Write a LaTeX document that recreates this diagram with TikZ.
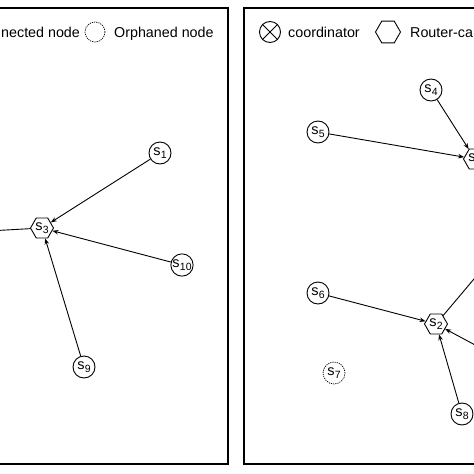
\documentclass[tikz,border=0pt]{standalone}
\usepackage{fontspec}
\setmainfont{Liberation Sans}
\usetikzlibrary{arrows.meta,shapes.geometric}
\newcommand{\slab}[1]{s\kern0.3pt\raisebox{-3.5pt}{\fontsize{10.5}{11}\selectfont #1}}
\begin{document}
\begin{tikzpicture}[x=1pt,y=-1pt,
  snode/.style={circle,draw,line width=0.9pt,minimum size=22pt,inner sep=0pt,font=\fontsize{14.5}{14}\selectfont},
  orph/.style={snode,line width=0.7pt,dash pattern=on 1.2pt off 1pt},
  hexnode/.style={regular polygon,regular polygon sides=6,draw,minimum size=23pt,inner sep=0pt,line width=0.9pt,font=\fontsize{14.5}{14}\selectfont},
  conn/.style={line width=0.9pt,-{Stealth[length=6pt,width=4.5pt]}},
  plain/.style={line width=0.9pt},
  frame/.style={line width=1.4pt},
  legtext/.style={anchor=base west,inner sep=0pt,font=\fontsize{14.3}{16}\selectfont}]
\useasboundingbox (0,0) rectangle (474,474);
\clip (0,0) rectangle (474,474);
% frames
\draw[frame] (-5,8) -- (228,8) -- (228,464) -- (-5,464);
\draw[frame] (480,8) -- (244,8) -- (244,464) -- (480,464);
% left legend
\node[legtext] (tdis) at (1,37) {nected node};
\node[circle,draw,line width=0.7pt,dash pattern=on 1.2pt off 1pt,minimum size=20pt,inner sep=0pt] (lorph) at (95,32) {};
\node[legtext] (torph) at (114,37) {Orphaned node};
% right legend
\node[circle,draw,line width=0.9pt,minimum size=21pt,inner sep=0pt] (lcoord) at (270,32) {};
\draw[line width=0.9pt] (lcoord.north west) -- (lcoord.south east) (lcoord.north east) -- (lcoord.south west);
\node[legtext] (tcoord) at (288,37) {coordinator};
\node[regular polygon,regular polygon sides=6,draw,line width=0.9pt,minimum size=25pt,inner sep=0pt] (lhex) at (388,32) {};
\node[legtext] (trouter) at (410,37) {Router-ca};
% left panel nodes
\node[snode] (s1) at (160,153) {\slab{1}};
\node[snode] (s10) at (182,265) {\slab{10}};
\node[hexnode] (s3) at (42,228) {\slab{3}};
\node[snode] (s9) at (84,367) {\slab{9}};
\coordinate (L) at (-30,232);
\draw[conn] (s1) -- (s3);
\draw[conn] (s10) -- (s3);
\draw[conn] (s9) -- (s3);
\draw[plain] (s3) -- (L);
% right panel nodes
\node[snode] (s4) at (431,90) {\slab{4}};
\node[snode] (s5) at (318,132) {\slab{5}};
\node[hexnode] (hr) at (475,159) {\slab{1}};
\node[snode] (s6) at (318,293) {\slab{6}};
\node[hexnode] (s2) at (436,324) {\slab{2}};
\node[orph] (s7) at (334,373) {\slab{7}};
\node[snode] (s8) at (462,414) {\slab{8}};
\coordinate (R1) at (490,260);
\coordinate (R2) at (490,353);
\draw[conn] (s4) -- (hr);
\draw[conn] (s5) -- (hr);
\draw[conn] (s6) -- (s2);
\draw[conn] (s8) -- (s2);
\draw[conn] (R2) -- (s2);
\draw[plain] (s2) -- (R1);
\end{tikzpicture}
\end{document}
